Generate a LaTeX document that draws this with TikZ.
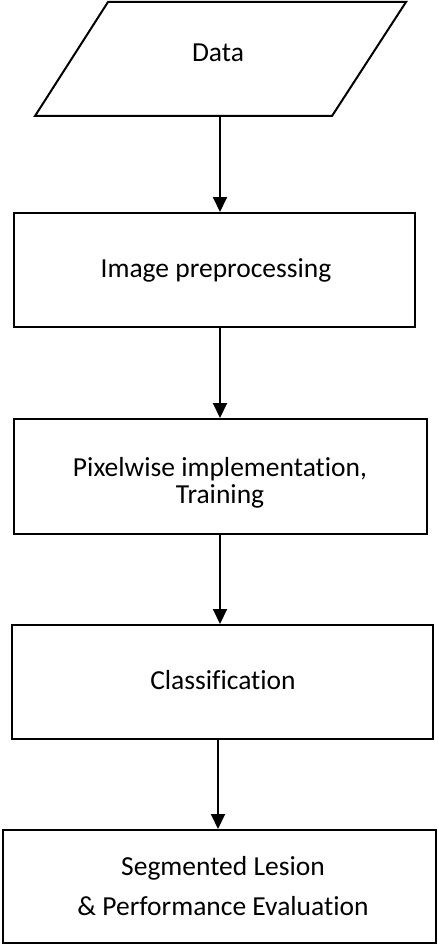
\documentclass[tikz,border=0pt]{standalone}
\usepackage{fontspec}
\setmainfont[Ligatures={NoCommon}]{Carlito}
\usetikzlibrary{arrows.meta}
\begin{document}
\begin{tikzpicture}[x=1pt,y=-1pt,
  box/.style={draw=black, line width=2pt, minimum width=#1, inner sep=0pt},
  lbl/.style={font=\fontsize{27.5}{40}\selectfont, inner sep=0pt, align=center},
  flow/.style={draw=black, line width=2pt, -{Triangle[length=15pt,width=14pt]}}]
\useasboundingbox (0,0) rectangle (438,944);
\fill[white] (0,0) rectangle (438,944);
% parallelogram
\coordinate (p1) at (108,2);
\coordinate (p2) at (406,2);
\coordinate (p3) at (332,116);
\coordinate (p4) at (35,116);
\draw[line width=2pt, line join=miter] (p1) -- (p2) -- (p3) -- (p4) -- cycle;
\node[lbl] (data) at (218,53) {Data};
\coordinate (dbot) at (220,116);
% boxes
\node[box=401pt, minimum height=114pt] (b1) at (214.5,270) {};
\node[lbl] (t1) at (216,270) {Image preprocessing};
\node[box=413pt, minimum height=115pt] (b2) at (220.5,476.5) {};
\node[lbl, font=\fontsize{27.5}{27}\selectfont] (t2) at (220,483) {Pixelwise implementation,\\Training};
\node[box=421pt, minimum height=114pt] (b3) at (222.5,682) {};
\node[lbl] (t3) at (223,680) {Classification};
\node[box=433pt, minimum height=113pt] (b4) at (219.5,886.5) {};
\node[lbl] (t4) at (223,886) {Segmented Lesion\\\& Performance Evaluation};
% connectors
\coordinate (a2s) at (220,327);
\coordinate (a3s) at (220,534);
\coordinate (a4s) at (218,739);
\draw[flow] (dbot) -- (b1.north -| dbot);
\draw[flow] (b1.south -| a2s) -- (b2.north -| a2s);
\draw[flow] (b2.south -| a3s) -- (b3.north -| a3s);
\draw[flow] (b3.south -| a4s) -- (b4.north -| a4s);
\end{tikzpicture}
\end{document}
